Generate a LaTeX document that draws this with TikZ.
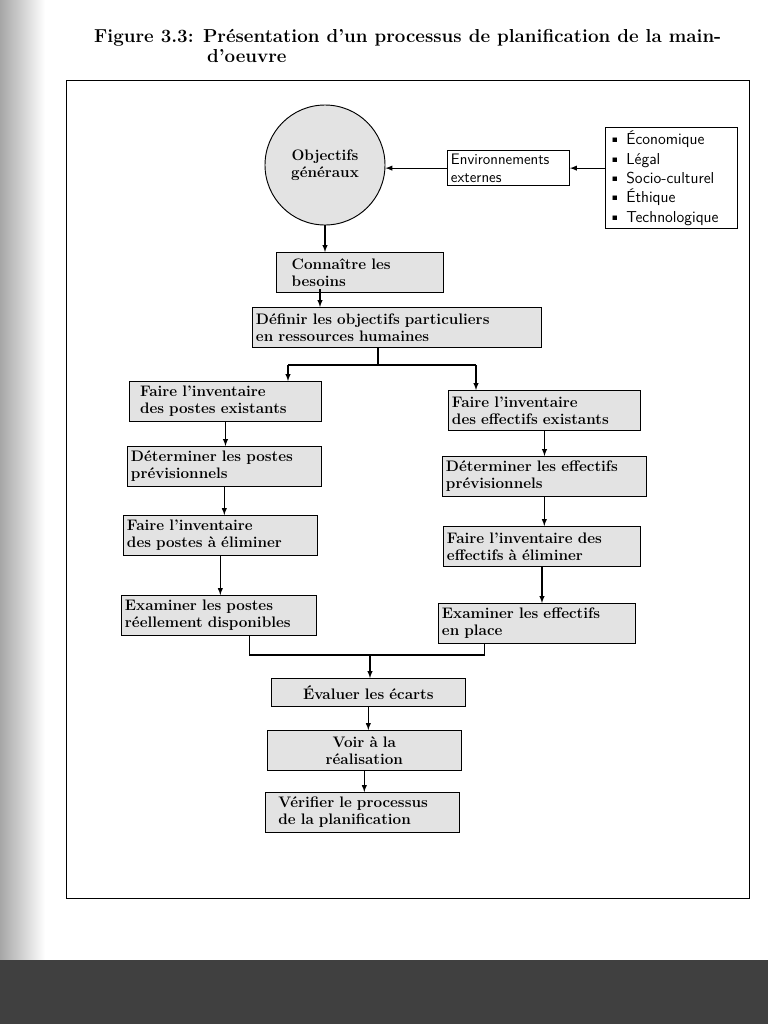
\documentclass[tikz,border=0pt]{standalone}
\usepackage{amsmath}
\usetikzlibrary{arrows,positioning}
\tikzset{
  etape/.style={draw, thick, fill=gray!22, font=\bfseries\fontsize{13}{14.5}\selectfont,
    align=left, anchor=north west, inner sep=3pt, minimum height=1.2cm},
  fleche/.style={line width=1pt, -latex},
  trait/.style={line width=1pt}
}
\begin{document}
\begin{tikzpicture}[x=0.03cm, y=-0.03cm]
%
\useasboundingbox (0,0) rectangle (768,1024);
\fill[white] (0,0) rectangle (768,1024);
\fill[left color=gray!70, right color=white] (0,0) rectangle (45,960);
\fill[black!75] (0,960) rectangle (768,1024);
%
\node[anchor=west, font=\bfseries\fontsize{16}{18}\selectfont] (titre) at (90,38)
  {Figure 3.3: Présentation d'un processus de planification de la main-};
\node[anchor=west, font=\bfseries\fontsize{16}{18}\selectfont] (titre2) at (203,56) {d'oeuvre};
\draw[thick] (66,80) rectangle (749,898);
%
\node[draw, thick, circle, fill=gray!22, minimum size=3.6cm,
  font=\bfseries\fontsize{13}{14.5}\selectfont, align=center] (obj) at (325,165)
  {Objectifs\\généraux};
\node[draw, thick, anchor=north west, font=\sffamily\fontsize{13}{15}\selectfont,
  align=left, text width=3.45cm, inner sep=3pt] (env) at (447,150)
  {Environnements\\externes};
\node[draw, thick, anchor=north west, font=\sffamily\fontsize{13.5}{16.5}\selectfont,
  align=left, text width=3.75cm, inner sep=3pt] (liste) at (605,127)
  {\textbullet\ Économique\\\textbullet\ Légal\\\textbullet\ Socio-culturel\\
   \textbullet\ Éthique\\\textbullet\ Technologique};
%
\node[etape, text width=4.8cm] (besoins) at (276,252) {\hspace{10pt}Connaître les\\\hspace{10pt}besoins};
\node[etape, text width=8.45cm] (definir) at (252,307)
  {Définir les objectifs particuliers\\en ressources humaines};
%
\node[etape, text width=5.55cm] (l1) at (129,381) {\hspace{6pt}Faire l'inventaire\\\hspace{6pt}des postes existants};
\node[etape, text width=5.6cm] (l2) at (127,446) {Déterminer les postes\\prévisionnels};
\node[etape, text width=5.6cm] (l3) at (123,515) {Faire l'inventaire\\des postes à éliminer};
\node[etape, text width=5.65cm] (l4) at (121,595) {Examiner les postes\\réellement disponibles};
%
\node[etape, text width=5.55cm] (r1) at (448,390) {Faire l'inventaire\\des effectifs existants};
\node[etape, text width=5.9cm] (r2) at (442,456) {Déterminer les effectifs\\prévisionnels};
\node[etape, text width=5.7cm] (r3) at (443,526) {Faire l'inventaire des\\effectifs à éliminer};
\node[etape, text width=5.7cm] (r4) at (438,603) {Examiner les effectifs\\en place};
%
\node[etape, text width=5.6cm, minimum height=0.85cm, align=center] (ecarts) at (271,678)
  {Évaluer les écarts};
\node[etape, text width=5.6cm, align=center] (voir) at (267,730) {Voir à la\\réalisation};
\node[etape, text width=5.6cm] (verif) at (265,792) {\hspace{8pt}Vérifier le processus\\\hspace{8pt}de la planification};
%
\coordinate (split) at (378,365);
\coordinate (gauche) at (288,365);
\coordinate (droite) at (476,365);
\coordinate (merge) at (370,655);
%
\draw[fleche] (liste.west |- env) -- (env.east);
\draw[fleche] (env.west) -- (obj.east |- env.west);
\draw[fleche] (obj.south) -- (obj.south |- besoins.north);
\draw[fleche] (320,289) -- (320,307);
\draw[trait] (definir.south -| split) -- (split);
\draw[trait] (gauche) -- (droite);
\draw[fleche] (gauche) -- (gauche |- l1.north);
\draw[fleche] (droite) -- (droite |- r1.north);
\draw[fleche] (l1.south) -- (l1.south |- l2.north);
\draw[fleche] (l2.south) -- (l2.south |- l3.north);
\draw[fleche] (l3.south) -- (l3.south |- l4.north);
\draw[fleche] (r1.south) -- (r1.south |- r2.north);
\draw[fleche] (r2.south) -- (r2.south |- r3.north);
\draw[fleche] (r3.south) -- (r3.south |- r4.north);
\draw[trait] (l4.south) ++(30,0) |- (merge) -| ([xshift=-45]r4.south);
\draw[fleche] (merge) -- (merge |- ecarts.north);
\draw[fleche] (ecarts) -- (ecarts |- voir.north);
\draw[fleche] (voir) -- (voir |- verif.north);
%
\end{tikzpicture}
\end{document}
